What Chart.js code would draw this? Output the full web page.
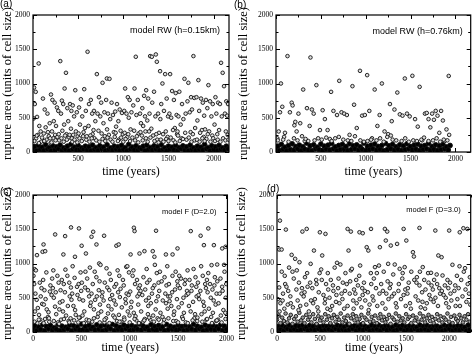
<!DOCTYPE html>
<html><head><meta charset="utf-8">
<script src="https://cdn.jsdelivr.net/npm/chart.js@4/dist/chart.umd.min.js"></script>
<style>
html,body{margin:0;padding:0;background:#fff;width:474px;height:355px;overflow:hidden;position:relative}
canvas{position:absolute;display:block}
</style></head><body>
<canvas id="ca" width="237" height="178" style="left:0;top:0"></canvas>
<canvas id="cb" width="244" height="178" style="left:230px;top:0"></canvas>
<canvas id="cc" width="237" height="177" style="left:0;top:178px"></canvas>
<canvas id="cd" width="244" height="177" style="left:230px;top:178px"></canvas>
<script>
// ---------- data (time in years, rupture area in units of cell size) ----------
const panelLabels = ['(a)','(b)','(c)','(d)'];
const modelLabels = ['model RW (h=0.15km)','model RW (h=0.76km)','model F (D=2.0)','model F (D=3.0)'];
const yTicks = [0,500,1000,1500,2000];
const xTicksAB = [500,1000,1500,2000];
const xTicksCD = [0,500,1000,1500,2000];
const xMaxes = [2170,2170,2010,2250];

// panel (a): small events band, scattered events
const bandA = [0,30,20,80,40,20,60,95,80,35,100,70,120,25,140,105,160,40,180,65,200,20,220,90,240,30,260,75,280,45,300,100,320,25,340,60,360,35,380,85,400,20,420,110,440,40,460,70,480,30,500,95,520,25,540,60,560,40,580,85,600,30,620,75,640,20,660,100,680,35,700,65,720,25,740,90,760,45,780,70,800,20,820,105,840,35,860,60,880,30,900,85,920,40,940,75,960,25,980,95,1000,35,1020,65,1040,20,1060,110,1080,40,1100,70,1120,30,1140,90,1160,25,1180,60,1200,45,1220,85,1240,20,1260,100,1280,35,1300,65,1320,30,1340,90,1360,40,1380,75,1400,25,1420,105,1440,35,1460,60,1480,20,1500,85,1520,40,1540,70,1560,30,1580,95,1600,25,1620,65,1640,45,1660,90,1680,30,1700,75,1720,20,1740,100,1760,40,1780,60,1800,25,1820,85,1840,35,1860,70,1880,30,1900,110,1920,45,1940,65,1960,20,1980,90,2000,35,2020,75,2040,25,2060,95,2080,40,2100,60,2120,30,2140,85,2160,45];
const eventsA = [12,941,30,878,63,1293,20,700,45,512,8,490,70,380,85,300,55,250,35,200,90,150,
110,780,130,620,160,560,185,420,140,360,120,270,175,230,150,180,195,130,
199,839,215,760,240,720,265,650,280,600,230,450,255,380,210,300,245,250,270,220,225,200,290,170,
302,1327,365,1156,350,927,320,750,335,700,380,640,310,560,390,450,345,400,325,310,370,260,355,240,395,210,
468,902,410,700,440,680,425,600,485,580,455,520,420,340,475,300,445,250,495,230,430,200,
567,917,530,770,510,650,585,600,545,520,520,400,575,350,505,270,555,230,590,180,
604,1463,640,760,620,700,675,600,655,560,690,450,615,380,660,260,635,240,680,200,
707,1137,770,1010,730,800,755,720,790,580,715,560,745,520,780,420,725,310,760,270,795,230,
818,1073,847,1068,810,760,870,720,830,560,885,540,855,480,820,330,895,290,840,250,
930,700,960,620,910,590,985,570,945,450,920,370,970,310,995,260,905,220,950,180,
1020,927,1050,800,1070,760,1010,600,1090,580,1035,560,1060,500,1080,330,1015,280,1045,220,
1138,1390,1124,927,1160,760,1110,680,1185,560,1145,540,1195,420,1120,310,1170,270,1150,230,
1253,902,1230,820,1275,780,1210,640,1290,560,1240,520,1265,460,1220,380,1285,300,1205,240,1250,200,
1297,1400,1316,1390,1360,1424,1371,1317,1340,880,1320,720,1385,560,1355,520,1310,340,1395,280,1330,240,1375,180,
1407,1180,1463,1137,1433,1000,1480,780,1420,700,1450,600,1495,520,1410,480,1470,300,1440,260,1490,220,
1518,1137,1540,890,1580,860,1560,760,1510,560,1590,540,1530,500,1570,350,1550,320,1595,260,
1677,1068,1620,880,1650,700,1690,560,1610,520,1665,480,1635,400,1685,280,1605,240,1645,200,
1776,1400,1720,1010,1750,800,1785,790,1710,740,1760,620,1735,580,1795,350,1745,290,1770,260,
1831,1049,1810,800,1860,780,1880,720,1840,600,1895,530,1820,460,1870,320,1850,280,1890,220,
1942,976,1915,760,1960,740,1990,700,1930,640,1975,520,1905,330,1950,300,1985,240,1920,190,
2082,1302,2100,1156,2020,800,2050,720,2070,700,2030,560,2090,520,2010,400,2060,320,2040,260,
2115,961,2140,740,2160,700,2125,560,2150,530,2135,300,2155,250,
15,160,40,240,65,130,100,210,125,160,165,290,190,200,205,140,250,170,285,260,315,200,340,150,375,180,405,250,435,150,460,180,490,140,515,200,540,160,560,290,595,230,625,150,650,200,670,320,700,170,735,150,770,190,800,160,825,210,860,180,880,150,915,280,940,160,975,210,1000,150,1025,190,1055,260,1075,160,1100,210,1130,170,1165,140,1190,290,1215,170,1245,300,1270,150,1300,210,1345,160,1365,260,1390,140,1415,180,1445,150,1475,190,1500,160,1525,210,1555,170,1575,140,1600,300,1625,160,1660,190,1700,180,1725,210,1755,150,1790,170,1815,180,1845,150,1875,200,1900,160,1935,260,1965,150,1995,200,2015,160,2045,180,2075,150,2105,200,2130,170,2165,180];

// panel (b)
const bandB = [0,35,20,85,40,25,60,110,80,40,100,70,120,20,140,95,160,35,180,120,200,30,220,80,240,45,260,100,280,25,300,75,320,40,340,130,360,30,380,90,400,20,420,105,440,45,460,70,480,35,500,115,520,25,540,85,560,40,580,100,600,30,620,125,640,45,660,75,680,20,700,95,720,35,740,110,760,40,780,80,800,25,820,120,840,35,860,90,880,45,900,105,920,30,940,75,960,40,980,130,1000,25,1020,85,1040,35,1060,100,1080,45,1100,115,1120,30,1140,80,1160,40,1180,95,1200,20,1220,125,1240,35,1260,90,1280,45,1300,110,1320,30,1340,75,1360,40,1380,105,1400,25,1420,90,1440,35,1460,120,1480,45,1500,80,1520,30,1540,100,1560,40,1580,115,1600,25,1620,85,1640,35,1660,95,1680,45,1700,125,1720,30,1740,80,1760,40,1780,105,1800,25,1820,90,1840,35,1860,110,1880,45,1900,75,1920,30,1940,95];
const eventsB = [30,300,15,200,55,1000,45,580,70,660,90,220,100,280,128,1400,155,580,175,720,185,680,205,390,215,440,250,560,230,300,270,420,303,912,290,230,320,160,345,640,375,380,384,1380,400,620,420,560,450,976,470,200,490,320,520,610,545,480,575,320,614,878,600,190,640,600,680,540,705,1039,730,580,760,560,790,540,820,250,852,961,870,690,900,350,936,1185,960,530,990,540,1016,1122,1040,600,1070,200,1100,912,1130,380,1155,540,1180,1000,1210,300,1250,260,1270,700,1290,450,1320,620,1352,868,1380,550,1410,530,1436,1073,1460,560,1490,520,1520,1112,1550,480,1580,370,1601,951,1630,170,1660,560,1680,570,1700,480,1720,360,1740,560,1760,470,1780,600,1800,530,1820,280,1840,600,1860,460,1880,160,1900,330,1925,1110,1930,250,
20,170,80,180,140,150,200,200,240,170,330,190,360,160,430,170,510,180,560,210,620,160,660,200,700,220,750,180,800,170,840,160,880,230,940,170,980,150,1020,160,1060,180,1120,170,1160,200,1200,150,1240,220,1280,240,1300,180,1340,170,1400,160,1440,200,1480,150,1530,170,1570,160,1620,180,1650,210,1700,160,1750,170,1790,200,1830,150,1870,180,1910,170];

// panel (c)
const bandC = [0,40,20,90,40,25,60,70,80,35,100,105,120,20,140,80,160,45,180,95,200,30,220,65,240,40,260,110,280,25,300,85,320,35,340,70,360,45,380,100,400,20,420,90,440,40,460,75,480,30,500,115,520,35,540,80,560,25,580,95,600,45,620,70,640,30,660,105,680,40,700,85,720,20,740,100,760,35,780,75,800,45,820,110,840,25,860,90,880,40,900,70,920,30,940,100,960,45,980,80,1000,20,1020,95,1040,35,1060,75,1080,40,1100,115,1120,30,1140,85,1160,45,1180,70,1200,25,1220,105,1240,40,1260,80,1280,30,1300,95,1320,45,1340,75,1360,20,1380,110,1400,35,1420,85,1440,40,1460,70,1480,30,1500,100,1520,45,1540,80,1560,25,1580,95,1600,35,1620,75,1640,40,1660,110,1680,30,1700,85,1720,45,1740,70,1760,20,1780,100,1800,35,1820,80,1840,40,1860,95,1880,30,1900,75,1920,45,1940,105,1960,25,1980,85,2000,40];
const eventsC = [17,917,41,1122,109,1278,99,1171,126,1180,229,1424,314,1132,332,1400,393,1527,434,1098,475,1512,503,1259,547,1146,605,1390,622,1463,656,1278,684,1000,735,1405,862,1259,886,1278,964,951,1043,1522,1050,1473,1009,1132,1101,1146,1152,1180,1238,1180,1272,1478,1255,1098,1374,1132,1443,1132,1494,1220,1631,1473,1733,1405,1767,1268,1812,1512,1870,1268,1846,976,1904,985,1956,1220,1990,1244,
5,820,12,700,25,560,38,470,50,350,62,250,75,180,88,640,20,300,45,130,70,720,95,410,30,900,80,520,
105,760,118,610,130,480,142,330,155,220,168,150,180,680,192,540,112,400,138,870,160,290,175,590,198,780,125,190,
205,640,215,500,228,370,240,260,252,820,265,720,278,430,290,180,210,900,235,580,258,140,272,330,285,610,298,760,
305,450,318,700,330,580,342,240,355,820,368,160,380,520,392,650,310,300,335,910,360,380,375,720,388,200,398,470,
405,560,418,380,430,790,442,250,455,660,468,140,480,480,492,870,410,960,435,320,460,540,472,700,485,210,498,600,
505,720,518,460,530,300,542,880,555,180,568,610,580,520,592,380,512,240,538,650,560,780,575,150,588,940,598,430,
605,560,618,700,630,330,642,470,655,800,668,220,680,610,692,400,612,150,638,880,660,520,675,270,688,740,698,980,
705,300,718,580,730,460,742,720,755,200,768,650,780,380,792,850,712,520,738,140,760,930,775,270,788,610,798,480,
805,760,818,540,830,240,842,660,855,400,868,160,880,580,892,820,812,330,838,460,860,700,875,900,888,250,898,510,
905,630,918,360,930,760,942,210,955,480,968,560,980,300,992,870,912,150,938,680,960,420,975,960,988,540,998,240,
1005,590,1018,440,1030,820,1042,280,1055,700,1068,170,1080,520,1092,640,1012,360,1038,900,1060,230,1075,760,1088,400,1098,560,
1105,680,1118,300,1130,540,1142,800,1155,190,1168,460,1180,720,1192,380,1112,600,1138,150,1160,620,1175,920,1188,260,1198,500,
1205,760,1218,420,1230,560,1242,240,1255,680,1268,330,1280,860,1292,520,1212,180,1238,640,1260,980,1275,450,1288,200,1298,720,
1305,600,1318,280,1330,740,1342,460,1355,180,1368,560,1380,680,1392,340,1312,880,1338,220,1360,800,1375,420,1388,960,1398,520,
1405,700,1418,520,1430,380,1442,820,1455,250,1468,620,1480,160,1492,740,1412,450,1438,580,1460,300,1475,880,1488,480,1498,680,
1505,360,1518,640,1530,780,1542,220,1555,500,1568,700,1580,140,1592,600,1512,820,1538,420,1560,280,1575,760,1588,540,1598,900,
1605,560,1618,760,1630,300,1642,680,1655,440,1668,200,1680,800,1692,520,1612,380,1638,600,1660,920,1675,260,1688,660,1698,160,
1705,720,1718,480,1730,600,1742,260,1755,820,1768,380,1780,700,1792,180,1712,540,1738,960,1760,440,1775,300,1788,640,1798,760,
1805,580,1818,340,1830,700,1842,220,1855,620,1868,460,1880,800,1892,160,1812,860,1838,500,1860,280,1875,680,1888,400,1898,560,
1905,740,1918,420,1930,560,1942,240,1955,660,1968,320,1980,880,1992,500,1912,180,1938,780,1960,600,1975,980,1988,280,1998,700,
15,150,60,180,110,130,165,200,215,160,270,120,320,190,375,140,425,170,475,210,525,130,580,170,630,200,690,140,740,180,790,130,845,210,895,150,945,180,1000,140,1050,190,1095,130,1150,170,1200,210,1250,150,1300,180,1350,130,1400,200,1450,160,1500,140,1550,190,1600,130,1650,170,1700,210,1750,150,1800,190,1850,130,1900,170,1950,140,1990,190];

// panel (d)
const bandD = [0,30,20,80,40,40,60,95,80,25,100,70,120,45,140,100,160,30,180,75,200,40,220,90,240,20,260,85,280,35,300,100,320,45,340,70,360,25,380,95,400,40,420,80,440,30,460,105,480,45,500,75,520,20,540,90,560,35,580,80,600,40,620,100,640,25,660,70,680,45,700,95,720,30,740,85,760,40,780,75,800,20,820,100,840,35,860,80,880,45,900,90,920,25,940,75,960,40,980,105,1000,30,1020,85,1040,45,1060,70,1080,20,1100,95,1120,35,1140,80,1160,40,1180,100,1200,25,1220,75,1240,45,1260,90,1280,30,1300,85,1320,40,1340,70,1360,20,1380,100,1400,35,1420,80,1440,45,1460,95,1480,25,1500,75,1520,40,1540,90,1560,30,1580,85,1600,45,1620,70,1640,20,1660,100,1680,35,1700,80,1720,40,1740,95,1760,25,1780,75,1800,45,1820,90,1840,30,1860,85,1880,40,1900,70,1920,20,1940,100,1960,35,1980,80,2000,45,2020,95,2040,25,2060,75,2080,40,2100,90,2120,30,2140,85,2160,45,2180,70,2200,20,2220,100,2240,35];
const layerD = [0,180,20,240,40,130,60,210,80,160,100,270,120,140,140,200,160,250,180,120,200,190,220,230,240,150,260,280,280,170,300,210,320,130,340,250,360,180,380,220,400,140,420,260,440,190,460,120,480,230,500,170,520,210,540,140,560,260,580,180,600,230,620,130,640,200,660,250,680,150,700,220,720,180,740,270,760,140,780,210,800,160,820,240,840,120,860,200,880,260,900,170,920,230,940,140,960,190,980,250,1000,130,1020,210,1040,180,1060,270,1080,150,1100,220,1120,160,1140,240,1160,130,1180,200,1200,260,1220,170,1240,220,1260,140,1280,190,1300,250,1320,120,1340,210,1360,180,1380,270,1400,150,1420,230,1440,170,1460,200,1480,140,1500,260,1520,190,1540,220,1560,130,1580,240,1600,170,1620,210,1640,150,1660,270,1680,180,1700,230,1720,140,1740,200,1760,250,1780,160,1800,220,1820,130,1840,190,1860,260,1880,170,1900,230,1920,140,1940,210,1960,180,1980,270,2000,150,2020,220,2040,130,2060,240,2080,190,2100,160,2120,250,2140,200,2160,140,2180,230,2200,180,2220,260,2240,150];
const eventsD = [34,1626,27,1204,54,1204,103,1495,295,1466,345,1505,498,1456,563,1432,820,1505,858,1466,958,1456,996,1442,1092,1505,1253,1505,1280,1466,1471,1505,1655,1519,1839,1481,2000,1481,2123,1456,2165,1515,2211,1505,
10,480,25,650,40,420,55,880,70,560,85,340,95,700,30,300,65,460,90,820,
110,660,125,400,140,940,155,520,170,1126,185,360,195,780,130,600,160,420,180,880,
211,1068,225,620,240,460,255,720,261,1019,270,380,285,560,230,900,250,320,290,640,
310,520,325,800,340,400,355,660,370,300,385,720,391,995,320,580,350,860,395,460,
410,640,429,1189,440,480,455,760,470,360,485,580,495,860,420,420,460,700,480,300,
513,913,525,1117,540,540,555,420,570,700,585,340,595,620,520,760,560,480,590,860,
610,500,625,760,640,380,655,600,670,940,685,440,697,1010,620,320,650,680,690,540,
710,640,725,420,736,985,750,560,765,720,780,340,795,860,715,780,760,480,790,600,
810,700,831,1189,845,560,858,900,870,922,885,460,895,620,820,380,850,740,890,340,
910,560,925,420,940,680,955,820,966,970,980,360,995,540,920,760,960,480,990,640,
1010,720,1025,460,1042,1238,1055,580,1061,1189,1075,400,1090,860,1020,600,1065,320,1095,700,
1110,520,1125,780,1138,947,1150,640,1165,380,1184,970,1195,1238,1120,460,1160,860,1190,560,
1210,700,1225,420,1240,880,1264,1335,1270,560,1285,740,1291,995,1230,600,1260,340,1295,480,
1310,640,1322,1262,1335,520,1350,840,1368,985,1380,420,1395,1286,1320,700,1360,560,1390,360,
1410,600,1425,922,1440,480,1455,780,1470,540,1483,947,1495,380,1415,700,1460,860,1490,620,
1502,1335,1515,560,1530,720,1545,420,1560,880,1579,1165,1590,1102,1520,640,1555,340,1595,760,
1610,520,1625,800,1640,460,1655,680,1670,360,1685,580,1693,947,1620,720,1660,880,1690,440,
1710,760,1725,620,1740,420,1755,860,1770,540,1789,864,1795,680,1720,340,1760,720,1785,480,
1810,620,1825,760,1840,500,1855,840,1870,380,1874,1117,1885,640,1820,440,1860,700,1895,560,
1912,1092,1923,825,1935,540,1950,680,1965,420,1980,760,1995,360,1915,600,1960,500,1990,640,
2010,720,2025,460,2038,981,2060,600,2075,380,2090,820,2015,560,2070,680,2095,480,
2110,640,2125,380,2140,760,2155,520,2170,880,2184,932,2200,440,2215,700,2230,560,2245,400,2120,960,2190,620,2240,800];

// ---------- drawing ----------
const toPts = a => { const r = []; for (let i = 0; i < a.length; i += 2) r.push({x: a[i], y: a[i + 1]}); return r; };
const serif = '"Liberation Serif", "Times New Roman", serif';

const framePlugin = {
  id: 'frame',
  afterDraw(chart, args, o) {
    const {ctx, chartArea: a, scales: {x, y}} = chart;
    ctx.save();
    ctx.strokeStyle = '#000';
    ctx.lineWidth = 1.2;
    ctx.strokeRect(a.left, a.top, a.right - a.left, a.bottom - a.top);
    ctx.lineWidth = 1;
    ctx.beginPath();
    for (let v = 0; v <= x.max; v += 250) {
      const p = Math.round(x.getPixelForValue(v)) + 0.5, L = v % 500 === 0 ? 4 : 2.5;
      ctx.moveTo(p, a.bottom); ctx.lineTo(p, a.bottom - L);
      ctx.moveTo(p, a.top); ctx.lineTo(p, a.top + L);
    }
    for (let v = 0; v <= y.max; v += 250) {
      const p = Math.round(y.getPixelForValue(v)) + 0.5, L = v % 500 === 0 ? 4 : 2.5;
      ctx.moveTo(a.left, p); ctx.lineTo(a.left + L, p);
      ctx.moveTo(a.right, p); ctx.lineTo(a.right - L, p);
    }
    ctx.stroke();
    ctx.fillStyle = '#000';
    ctx.font = o.modelSize + 'px "Liberation Sans", Arial, sans-serif';
    ctx.textAlign = 'right'; ctx.textBaseline = 'middle';
    ctx.fillText(o.model, a.right - o.modelDx, a.top + o.modelDy);
    ctx.font = '10px "Liberation Sans", Arial, sans-serif';
    ctx.textAlign = 'left'; ctx.textBaseline = 'middle';
    ctx.fillText(o.label, o.labelX, o.labelY);
    ctx.restore();
  }
};

function makeChart(id, sets, cfg) {
  const pointBase = {pointRadius: 1.8, borderWidth: 0.9, borderColor: '#111', pointHoverRadius: 1.8, showLine: false, clip: 0};
  new Chart(document.getElementById(id), {
    type: 'scatter',
    data: {datasets: [
      Object.assign({data: toPts(sets.events), backgroundColor: '#dedede'}, pointBase),
      ...(sets.layer ? [Object.assign({data: toPts(sets.layer), backgroundColor: '#999'}, pointBase)] : []),
      Object.assign({data: toPts(sets.band), backgroundColor: '#000'}, pointBase, {pointRadius: 2.4, pointHoverRadius: 2.4})
    ]},
    options: {
      responsive: false, animation: false, events: [],
      layout: {padding: {left: cfg.padL, top: cfg.padT, right: cfg.padR, bottom: 0}},
      plugins: {legend: {display: false}, tooltip: {enabled: false},
        frame: {model: cfg.model, modelSize: cfg.modelSize, modelDx: cfg.modelDx, modelDy: cfg.modelDy, label: cfg.label, labelX: cfg.labelX, labelY: cfg.labelY}},
      scales: {
        x: {type: 'linear', min: 0, max: cfg.xMax,
          afterBuildTicks: s => { s.ticks = cfg.xTicks.map(v => ({value: v})); },
          afterFit: s => { s.height = cfg.xH; },
          grid: {display: false, drawTicks: false}, border: {display: false},
          ticks: {padding: 3, maxRotation: 0, autoSkip: false, color: '#000', callback: v => String(v), font: {family: serif, size: 7.5}},
          title: {display: true, text: 'time (years)', color: '#000', padding: {top: 0, bottom: cfg.xTitlePad}, font: {family: serif, size: 12, lineHeight: 1}}
        },
        y: {type: 'linear', min: 0, max: 2000,
          afterBuildTicks: s => { s.ticks = yTicks.map(v => ({value: v})); },
          afterFit: s => { s.width = cfg.yW; },
          grid: {display: false, drawTicks: false}, border: {display: false},
          ticks: {padding: 3, color: '#000', callback: v => String(v), font: {family: serif, size: 7.5}},
          title: {display: true, text: 'rupture area (units of cell size)', color: '#000', padding: {top: 0, bottom: 0}, font: {family: serif, size: 12.5, lineHeight: 1}}
        }
      }
    },
    plugins: [framePlugin]
  });
}

makeChart('ca', {band: bandA, events: eventsA}, {xMax: xMaxes[0], xTicks: xTicksAB, padL: 1.5, yW: 31.5, padT: 15, padR: 8, xH: 26, xTitlePad: 0,
  model: modelLabels[0], modelSize: 9, modelDx: 9, modelDy: 16, label: panelLabels[0], labelX: 0, labelY: 4});
makeChart('cb', {band: bandB, events: eventsB}, {xMax: xMaxes[1], xTicks: xTicksAB, padL: 7.5, yW: 38.5, padT: 15, padR: 1, xH: 26, xTitlePad: 0,
  model: modelLabels[1], modelSize: 9, modelDx: 8, modelDy: 17, label: panelLabels[1], labelX: 4, labelY: 5});
makeChart('cc', {band: bandC, events: eventsC}, {xMax: xMaxes[2], xTicks: xTicksCD, padL: 1.5, yW: 31.5, padT: 17, padR: 8, xH: 23, xTitlePad: 0.7,
  model: modelLabels[2], modelSize: 7.5, modelDx: 11, modelDy: 17, label: panelLabels[2], labelX: 0, labelY: 14});
makeChart('cd', {band: bandD, layer: layerD, events: eventsD}, {xMax: xMaxes[3], xTicks: xTicksCD, padL: 5.5, yW: 41.5, padT: 17, padR: 1, xH: 23, xTitlePad: 0.7,
  model: modelLabels[3], modelSize: 7.5, modelDx: 10, modelDy: 15, label: panelLabels[3], labelX: 37, labelY: 11});
</script>
</body></html>
